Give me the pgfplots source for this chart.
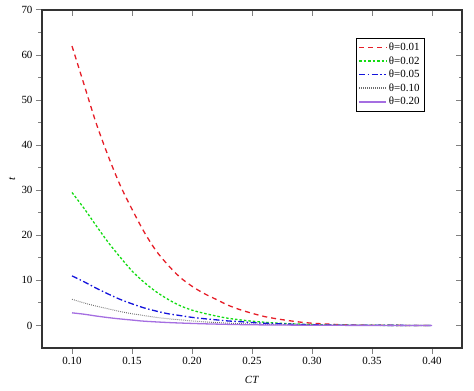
\documentclass[border=0pt]{standalone}
\usepackage{pgfplots}
\pgfplotsset{compat=1.18}
\usetikzlibrary{calc}
\usepackage{fontspec}
\setmainfont{Liberation Serif}
\definecolor{cred}{RGB}{230,30,40}
\definecolor{cgreen}{RGB}{20,220,20}
\definecolor{cblue}{RGB}{20,20,220}
\definecolor{cgray}{RGB}{110,110,110}
\definecolor{cpurple}{RGB}{165,110,225}
\begin{document}
\begin{tikzpicture}[font=\fontsize{11}{13}\selectfont]
\pgfplotsset{
  common/.style={
    scale only axis, width=420bp, height=338bp,
    xmin=0.075, xmax=0.425, ymin=-5, ymax=70,
    xtick={0.10,0.15,...,0.401}, ytick={0,10,...,70},
    minor y tick num=1,
    axis line style={line width=1.3pt, black!80},
    major tick length=6bp, minor tick length=3.5bp,
    every tick/.append style={line width=1pt},
  }
}
\begin{axis}[common,
  tick align=inside, xtick pos=upper, ytick pos=right,
  xticklabels={}, yticklabels={}]
\end{axis}
\begin{axis}[common, name=ax,
  tick align=outside, xtick pos=lower, ytick pos=left,
  /pgf/number format/assume math mode=true,
  xticklabel style={/pgf/number format/.cd, fixed, fixed zerofill, precision=2},
  xlabel={\textit{CT}}, ylabel={\textit{t}},
  xlabel style={at={(axis description cs:0.5,-0.095)}, anchor=center},
  ylabel style={at={(axis description cs:-0.071,0.5)}, anchor=center},
  legend style={at={(0.91,0.917)}, anchor=north east,
    font=\fontsize{11}{12}\selectfont, row sep=0.5pt, inner sep=2.5pt},
  legend image code/.code={\draw[#1, line width=1.5pt] (0cm,0cm) -- (0.95cm,0cm);},
]
\addplot[cred, line width=1.3pt, dash pattern=on 5pt off 4pt, smooth] coordinates {
(0.10,62) (0.11,53.5) (0.12,45) (0.13,37.7) (0.14,31.2) (0.15,25.8) (0.16,20.8)
(0.17,16.6) (0.18,13.4) (0.19,10.7) (0.20,8.7) (0.21,7.1) (0.22,5.8) (0.23,4.5)
(0.24,3.5) (0.25,2.7) (0.26,2.0) (0.27,1.5) (0.28,1.1) (0.29,0.75) (0.30,0.5)
(0.31,0.35) (0.32,0.22) (0.33,0.14) (0.34,0.08) (0.35,0.05) (0.36,0.03) (0.38,0.01) (0.40,0)};
\addlegendentry{θ=0.01}
\addplot[cgreen, line width=1.3pt, dash pattern=on 2.5pt off 2pt, smooth] coordinates {
(0.10,29.5) (0.11,26.0) (0.12,22.2) (0.13,18.5) (0.14,15.2) (0.15,12.1) (0.16,9.6)
(0.17,7.5) (0.18,5.8) (0.19,4.4) (0.20,3.4) (0.21,2.7) (0.22,2.1) (0.23,1.6)
(0.24,1.25) (0.25,0.95) (0.26,0.72) (0.27,0.55) (0.28,0.4) (0.30,0.2) (0.32,0.1)
(0.35,0.03) (0.40,0)};
\addlegendentry{θ=0.02}
\addplot[cblue, line width=1.3pt, dash pattern=on 6pt off 2.5pt on 1.5pt off 2.5pt, smooth] coordinates {
(0.10,11) (0.11,9.7) (0.12,8.3) (0.13,7.0) (0.14,5.8) (0.15,4.8) (0.16,3.9)
(0.17,3.2) (0.18,2.6) (0.19,2.2) (0.20,1.8) (0.21,1.5) (0.22,1.25) (0.23,1.0)
(0.24,0.85) (0.25,0.65) (0.26,0.5) (0.28,0.3) (0.30,0.15) (0.33,0.05) (0.40,0)};
\addlegendentry{θ=0.05}
\addplot[cgray, line width=1pt, dash pattern=on 0.8pt off 1.2pt, smooth] coordinates {
(0.10,5.8) (0.11,5.0) (0.12,4.3) (0.13,3.7) (0.14,3.1) (0.15,2.6) (0.16,2.2)
(0.17,1.8) (0.18,1.5) (0.19,1.25) (0.20,1.0) (0.22,0.65) (0.24,0.4) (0.26,0.25)
(0.28,0.15) (0.30,0.08) (0.34,0.02) (0.40,0)};
\addlegendentry{θ=0.10}
\addplot[cpurple, line width=1.3pt, smooth] coordinates {
(0.10,2.8) (0.11,2.5) (0.12,2.1) (0.13,1.75) (0.14,1.45) (0.15,1.2) (0.16,0.95)
(0.18,0.65) (0.20,0.45) (0.22,0.3) (0.25,0.15) (0.30,0.05) (0.35,0.01) (0.40,0)};
\addlegendentry{θ=0.20}
\end{axis}
\pgfresetboundingbox
\path ($(ax.south west)+(-42bp,-43bp)$) rectangle ($(ax.north east)+(12bp,10bp)$);
\end{tikzpicture}
\end{document}
